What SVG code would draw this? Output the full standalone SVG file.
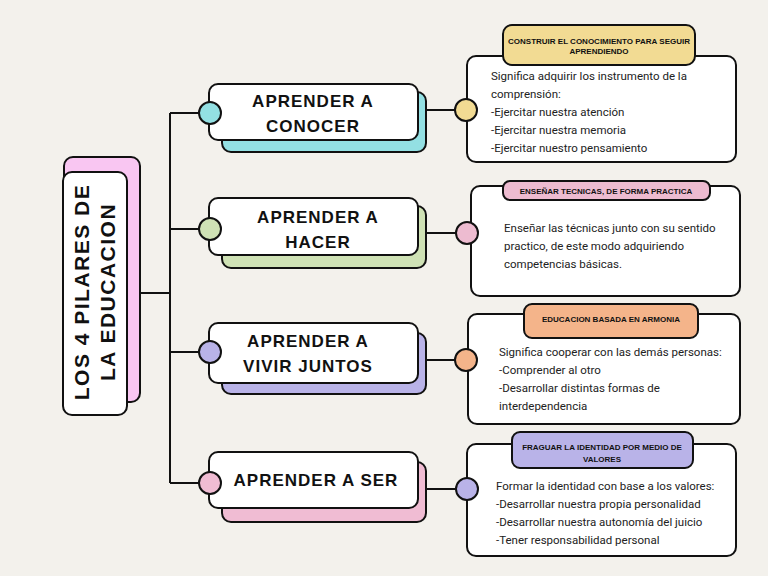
<svg xmlns="http://www.w3.org/2000/svg" width="768" height="576" viewBox="0 0 768 576">
<style>
.k{stroke:#111;stroke-width:2}
.f{fill:#fff}
.h{font-family:"Liberation Sans",sans-serif;font-weight:bold;font-size:17px;letter-spacing:1px;text-anchor:middle;fill:#111}
.t{font-family:"Liberation Sans",sans-serif;font-weight:bold;font-size:8px;text-anchor:middle;fill:#111}
.b{font-family:Roboto,sans-serif;font-size:11.5px;fill:#222}
.l{fill:none;stroke:#111;stroke-width:2}
</style>
<rect width="768" height="576" fill="#F3F1EC"/>
<g id="connectors">
<path class="l" d="M140 293H170M170 113V483M170 113H200M170 229H200M170 352H200M170 483H200"/>
<path class="l" d="M418 110H456M418 233H457M418 360H456M418 489H457"/>
</g>
<g id="title">
<rect x="64" y="157" width="76" height="245" rx="9" fill="#F9C6F2" class="k"/>
<rect x="63" y="172" width="64" height="243" rx="9" class="k f"/>
<text class="h" style="font-size:21px;letter-spacing:1.5px" transform="translate(95 292) rotate(-90)"><tspan x="0" y="-6">LOS 4 PILARES DE</tspan><tspan x="0" y="20">LA EDUCACION</tspan></text>
</g>
<g id="n1">
<rect x="222" y="92" width="204" height="60" rx="9" fill="#93E0E3" class="k"/>
<rect x="209" y="84" width="209" height="56" rx="9" class="k f"/>
<circle cx="210" cy="113" r="11" fill="#93E0E3" class="k"/>
<text class="h" x="313" y="107">APRENDER A</text><text class="h" x="313" y="132">CONOCER</text>
</g>
<g id="n2">
<rect x="222" y="206" width="204" height="62" rx="9" fill="#CFE2B5" class="k"/>
<rect x="209" y="198" width="209" height="57" rx="9" class="k f"/>
<circle cx="210" cy="229" r="11" fill="#CFE2B5" class="k"/>
<text class="h" x="318" y="223">APRENDER A</text><text class="h" x="318" y="248">HACER</text>
</g>
<g id="n3">
<rect x="222" y="333" width="204" height="61" rx="9" fill="#B9B3E8" class="k"/>
<rect x="209" y="323" width="209" height="60" rx="9" class="k f"/>
<circle cx="210" cy="352" r="11" fill="#B9B3E8" class="k"/>
<text class="h" x="308" y="347">APRENDER A</text><text class="h" x="308" y="372">VIVIR JUNTOS</text>
</g>
<g id="n4">
<rect x="222" y="462" width="204" height="60" rx="9" fill="#F0BCD3" class="k"/>
<rect x="209" y="452" width="209" height="56" rx="9" class="k f"/>
<circle cx="210" cy="483" r="11" fill="#F0BCD3" class="k"/>
<text class="h" x="316" y="486">APRENDER A SER</text>
</g>
<g id="d1">
<rect x="467" y="56" width="269" height="106" rx="9" class="k f"/>
<circle cx="466" cy="110" r="11" fill="#F2DB93" class="k"/>
<rect x="503" y="25" width="192" height="40" rx="9" fill="#F2DB93" class="k"/>
<text class="t" x="599" y="44">CONSTRUIR EL CONOCIMIENTO PARA SEGUIR</text><text class="t" x="599" y="54">APRENDIENDO</text>
<text class="b" x="491" y="80">Significa adquirir los instrumento de la</text>
<text class="b" x="491" y="98">comprensión:</text>
<text class="b" x="491" y="116">-Ejercitar nuestra atención</text>
<text class="b" x="491" y="134">-Ejercitar nuestra memoria</text>
<text class="b" x="491" y="152">-Ejercitar nuestro pensamiento</text>
</g>
<g id="d2">
<rect x="471" y="186" width="269" height="110" rx="9" class="k f"/>
<circle cx="467" cy="233" r="11" fill="#EDBBD0" class="k"/>
<rect x="503" y="181" width="207" height="19" rx="7" fill="#EDBBD0" class="k"/>
<text class="t" x="606" y="194">ENSEÑAR TECNICAS, DE FORMA PRACTICA</text>
<text class="b" x="504" y="232">Enseñar las técnicas junto con su sentido</text>
<text class="b" x="504" y="250">practico, de este modo adquiriendo</text>
<text class="b" x="504" y="268">competencias básicas.</text>
</g>
<g id="d3">
<rect x="468" y="314" width="272" height="110" rx="9" class="k f"/>
<circle cx="466" cy="360" r="11" fill="#F4B48A" class="k"/>
<rect x="524" y="304" width="174" height="34" rx="8" fill="#F4B48A" class="k"/>
<text class="t" x="611" y="322">EDUCACION BASADA EN ARMONIA</text>
<text class="b" x="499" y="356">Significa cooperar con las demás personas:</text>
<text class="b" x="499" y="374">-Comprender al otro</text>
<text class="b" x="499" y="392">-Desarrollar distintas formas de</text>
<text class="b" x="499" y="410">interdependencia</text>
</g>
<g id="d4">
<rect x="467" y="444" width="269" height="112" rx="9" class="k f"/>
<circle cx="467" cy="489" r="11" fill="#B9B3E8" class="k"/>
<rect x="512" y="432" width="181" height="36" rx="8" fill="#B9B3E8" class="k"/>
<text class="t" x="602" y="450">FRAGUAR LA IDENTIDAD POR MEDIO DE</text><text class="t" x="602" y="462">VALORES</text>
<text class="b" x="496" y="490">Formar la identidad con base a los valores:</text>
<text class="b" x="496" y="508">-Desarrollar nuestra propia personalidad</text>
<text class="b" x="496" y="526">-Desarrollar nuestra autonomía del juicio</text>
<text class="b" x="496" y="544">-Tener responsabilidad personal</text>
</g>
</svg>
